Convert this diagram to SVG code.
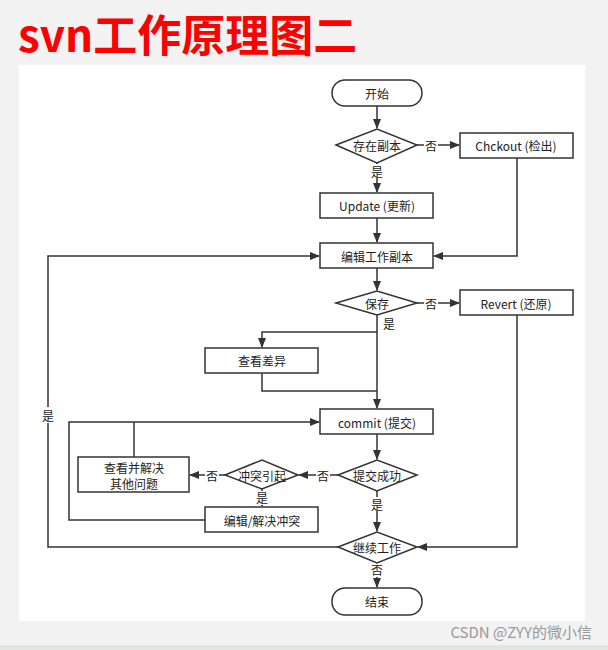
<svg xmlns="http://www.w3.org/2000/svg" width="608" height="650" viewBox="0 0 608 650">
<style>
.b{fill:#fff;stroke:#333;stroke-width:1.5}
.t{font-family:"Noto Sans CJK SC","Liberation Sans",sans-serif;font-size:12px;fill:#222;text-anchor:middle;dominant-baseline:central}
.l{fill:none;stroke:#333;stroke-width:1.5}
.lb{font-family:"Noto Sans CJK SC",sans-serif;font-size:12px;fill:#222;text-anchor:middle;dominant-baseline:central}
</style>
<defs><marker id="a" markerWidth="10" markerHeight="8" refX="9" refY="4" orient="auto" markerUnits="userSpaceOnUse"><path d="M0,0L10,4L0,8z" fill="#333"/></marker></defs>
<rect width="608" height="650" fill="#f2f2f2"/>
<rect y="645" width="608" height="5" fill="#dfe8df"/>
<rect x="19" y="65" width="566" height="556" fill="#fff"/>
<text x="18" y="52" font-family="Noto Sans CJK SC,Liberation Sans,sans-serif" font-size="44" font-weight="bold" fill="#f00">svn工作原理图二</text>
<g id="connectors">
<path class="l" d="M377,106V128" marker-end="url(#a)"/>
<path class="l" d="M417,145H459" marker-end="url(#a)"/>
<path class="l" d="M377,163V192" marker-end="url(#a)"/>
<path class="l" d="M377,218V242" marker-end="url(#a)"/>
<path class="l" d="M517,158V256H434" marker-end="url(#a)"/>
<path class="l" d="M377,268V290" marker-end="url(#a)"/>
<path class="l" d="M417,303H459" marker-end="url(#a)"/>
<path class="l" d="M377,315V408" marker-end="url(#a)"/>
<path class="l" d="M377,332H262V347" marker-end="url(#a)"/>
<path class="l" d="M262,373V391H377"/>
<path class="l" d="M377,434V459" marker-end="url(#a)"/>
<path class="l" d="M338,475H299" marker-end="url(#a)"/>
<path class="l" d="M225,475H190" marker-end="url(#a)"/>
<path class="l" d="M262,489V506" marker-end="url(#a)"/>
<path class="l" d="M205,520H69V422H319" marker-end="url(#a)"/>
<path class="l" d="M134,457V422"/>
<path class="l" d="M377,491V531" marker-end="url(#a)"/>
<path class="l" d="M517,315V547H418" marker-end="url(#a)"/>
<path class="l" d="M338,547H48V256H319" marker-end="url(#a)"/>
<path class="l" d="M377,563V587" marker-end="url(#a)"/>
<g>
<rect x="424" y="138" width="14" height="14" fill="#fff"/><text class="lb" x="431" y="145">否</text>
<rect x="370" y="164" width="14" height="14" fill="#fff"/><text class="lb" x="377" y="171">是</text>
<rect x="424" y="296" width="14" height="14" fill="#fff"/><text class="lb" x="431" y="303">否</text>
<text class="lb" x="389" y="323">是</text>
<rect x="316" y="468" width="14" height="14" fill="#fff"/><text class="lb" x="323" y="475">否</text>
<rect x="205" y="468" width="14" height="14" fill="#fff"/><text class="lb" x="212" y="475">否</text>
<rect x="255" y="491" width="14" height="14" fill="#fff"/><text class="lb" x="262" y="497">是</text>
<rect x="370" y="497" width="14" height="14" fill="#fff"/><text class="lb" x="377" y="504">是</text>
<rect x="370" y="563" width="14" height="14" fill="#fff"/><text class="lb" x="377" y="569">否</text>
<rect x="41" y="407" width="14" height="16" fill="#fff"/><text class="lb" x="48" y="415">是</text>
</g>
</g>
<g id="start"><rect class="b" x="332" y="80" width="90" height="26" rx="13"/><text class="t" x="377" y="93">开始</text></g>
<g id="d1"><path class="b" d="M336,145L377,129L417,145L377,163z"/><text class="t" x="377" y="145">存在副本</text></g>
<g id="checkout"><rect class="b" x="460" y="133" width="113" height="25"/><text class="t" x="516" y="145">Chckout (检出)</text></g>
<g id="update"><rect class="b" x="320" y="193" width="113" height="25"/><text class="t" x="377" y="205">Update (更新)</text></g>
<g id="edit"><rect class="b" x="320" y="243" width="113" height="25"/><text class="t" x="377" y="256">编辑工作副本</text></g>
<g id="save"><path class="b" d="M336,303L377,291L417,303L377,315z"/><text class="t" x="377" y="303">保存</text></g>
<g id="revert"><rect class="b" x="460" y="290" width="113" height="25"/><text class="t" x="516" y="303">Revert (还原)</text></g>
<g id="diff"><rect class="b" x="205" y="348" width="113" height="25"/><text class="t" x="262" y="360">查看差异</text></g>
<g id="commit"><rect class="b" x="320" y="409" width="113" height="25"/><text class="t" x="377" y="422">commit (提交)</text></g>
<g id="ok"><path class="b" d="M338,475L377,460L417,475L377,491z"/><text class="t" x="377" y="475">提交成功</text></g>
<g id="conflict"><path class="b" d="M225,475L262,460L298,475L262,489z"/><text class="t" x="262" y="475">冲突引起</text></g>
<g id="other"><rect class="b" x="78" y="457" width="111" height="35"/><text class="t" x="134" y="467">查看并解决</text><text class="t" x="134" y="483">其他问题</text></g>
<g id="resolve"><rect class="b" x="205" y="507" width="113" height="25"/><text class="t" x="262" y="520">编辑/解决冲突</text></g>
<g id="cont"><path class="b" d="M338,547L377,532L417,547L377,563z"/><text class="t" x="377" y="547">继续工作</text></g>
<g id="end"><rect class="b" x="332" y="588" width="90" height="27" rx="13"/><text class="t" x="377" y="601">结束</text></g>
<text x="592" y="638" text-anchor="end" font-family="Noto Sans CJK SC,sans-serif" font-size="15" fill="#999">CSDN @ZYY的微小信</text>
</svg>
